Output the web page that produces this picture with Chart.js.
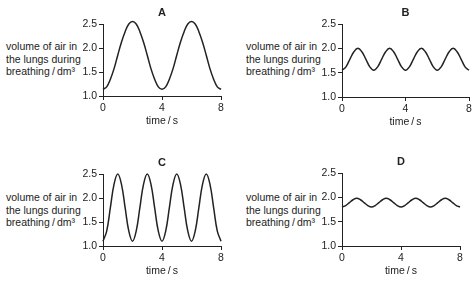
<!DOCTYPE html>
<html>
<head>
<meta charset="utf-8">
<script src="https://cdn.jsdelivr.net/npm/chart.js@4.4.1/dist/chart.umd.min.js"></script>
<style>
    body { margin: 0; background: #fff; width: 474px; height: 287px; overflow: hidden; position: relative; }
    .panel { position: absolute; }
    .ylabel {
        position: absolute;
        font-family: "Liberation Sans", Arial, sans-serif;
        font-size: 10.5px;
        line-height: 12.5px;
        color: #222;
        white-space: nowrap;
    }
</style>
</head>
<body>
<div class="ylabel" style="left:6px; top:40px;">volume of air in<br>the lungs during<br>breathing&thinsp;/&thinsp;dm³</div>
<div class="ylabel" style="left:246px; top:40px;">volume of air in<br>the lungs during<br>breathing&thinsp;/&thinsp;dm³</div>
<div class="ylabel" style="left:6px; top:191px;">volume of air in<br>the lungs during<br>breathing&thinsp;/&thinsp;dm³</div>
<div class="ylabel" style="left:246px; top:191px;">volume of air in<br>the lungs during<br>breathing&thinsp;/&thinsp;dm³</div>

<div class="panel" style="left:75px; top:0px; width:155px; height:135px;"><canvas id="chartA"></canvas></div>
<div class="panel" style="left:314px; top:0px; width:164px; height:136px;"><canvas id="chartB"></canvas></div>
<div class="panel" style="left:75px; top:150px; width:155px; height:135px;"><canvas id="chartC"></canvas></div>
<div class="panel" style="left:314px; top:149px; width:155px; height:136px;"><canvas id="chartD"></canvas></div>

<script>
// time in seconds, one sample every quarter second
const times = [0, 0.25, 0.5, 0.75, 1, 1.25, 1.5, 1.75, 2, 2.25, 2.5, 2.75, 3, 3.25, 3.5, 3.75,
               4, 4.25, 4.5, 4.75, 5, 5.25, 5.5, 5.75, 6, 6.25, 6.5, 6.75, 7, 7.25, 7.5, 7.75, 8];

// volume of air in the lungs / dm3
const volumeA = [1.14, 1.19, 1.35, 1.57, 1.85, 2.12, 2.34, 2.50, 2.55, 2.50, 2.34, 2.12, 1.85, 1.57, 1.35, 1.19,
                 1.14, 1.19, 1.35, 1.57, 1.85, 2.12, 2.34, 2.50, 2.55, 2.50, 2.34, 2.12, 1.85, 1.57, 1.35, 1.19, 1.14];
const volumeB = [1.55, 1.62, 1.78, 1.93, 2.00, 1.93, 1.78, 1.62, 1.55, 1.62, 1.78, 1.93, 2.00, 1.93, 1.78, 1.62,
                 1.55, 1.62, 1.78, 1.93, 2.00, 1.93, 1.78, 1.62, 1.55, 1.62, 1.78, 1.93, 2.00, 1.93, 1.78, 1.62, 1.55];
const volumeC = [1.10, 1.31, 1.80, 2.29, 2.50, 2.29, 1.80, 1.31, 1.10, 1.31, 1.80, 2.29, 2.50, 2.29, 1.80, 1.31,
                 1.10, 1.31, 1.80, 2.29, 2.50, 2.29, 1.80, 1.31, 1.10, 1.31, 1.80, 2.29, 2.50, 2.29, 1.80, 1.31, 1.10];
const volumeD = [1.80, 1.83, 1.89, 1.95, 1.98, 1.95, 1.89, 1.83, 1.80, 1.83, 1.89, 1.95, 1.98, 1.95, 1.89, 1.83,
                 1.80, 1.83, 1.89, 1.95, 1.98, 1.95, 1.89, 1.83, 1.80, 1.83, 1.89, 1.95, 1.98, 1.95, 1.89, 1.83, 1.80];

const xTicks = [0, 4, 8];
const yTicks = [1.0, 1.5, 2.0, 2.5];

Chart.defaults.font.family = '"Liberation Sans", Arial, sans-serif';
Chart.defaults.font.size = 10.5;
Chart.defaults.color = '#222';

const ink = '#222';

function makePanel(canvasId, letter, volumes) {
    const points = times.map((t, i) => ({ x: t, y: volumes[i] }));
    return new Chart(document.getElementById(canvasId), {
        type: 'line',
        data: {
            datasets: [{
                data: points,
                borderColor: ink,
                borderWidth: 1.5,
                pointRadius: 0,
                tension: 0.4,
                fill: false,
                clip: false // peaks of A go a little past 2.5
            }]
        },
        options: {
            responsive: true,
            maintainAspectRatio: false,
            animation: false,
            layout: { padding: { right: 9, left: 0, top: 0, bottom: 0 } },
            plugins: {
                legend: { display: false },
                tooltip: { enabled: false },
                title: {
                    display: true,
                    text: letter,
                    fullSize: false,
                    color: ink,
                    font: { size: 11, weight: 'bold' },
                    padding: { top: 6, bottom: 4.8 }
                }
            },
            scales: {
                x: {
                    type: 'linear',
                    min: 0,
                    max: 8,
                    afterFit: function (scale) { scale.height = 39; },
                    afterBuildTicks: function (scale) { scale.ticks = xTicks.map(v => ({ value: v })); },
                    ticks: { padding: 2, maxRotation: 0, color: ink },
                    grid: { drawOnChartArea: false, drawTicks: true, tickLength: 4, color: ink },
                    border: { color: ink, width: 1 },
                    title: { display: true, text: 'time\u2009/\u2009s', color: ink, padding: { top: 8, bottom: 8 } }
                },
                y: {
                    min: 1.0,
                    max: 2.5,
                    afterFit: function (scale) { scale.width = 28; },
                    afterBuildTicks: function (scale) { scale.ticks = yTicks.map(v => ({ value: v })); },
                    ticks: { padding: 2, color: ink, callback: v => v.toFixed(1) },
                    grid: { drawOnChartArea: false, drawTicks: true, tickLength: 4, color: ink },
                    border: { color: ink, width: 1 }
                }
            }
        }
    });
}

document.addEventListener('DOMContentLoaded', function () {
    makePanel('chartA', 'A', volumeA);
    makePanel('chartB', 'B', volumeB);
    makePanel('chartC', 'C', volumeC);
    makePanel('chartD', 'D', volumeD);
});
</script>
</body>
</html>
